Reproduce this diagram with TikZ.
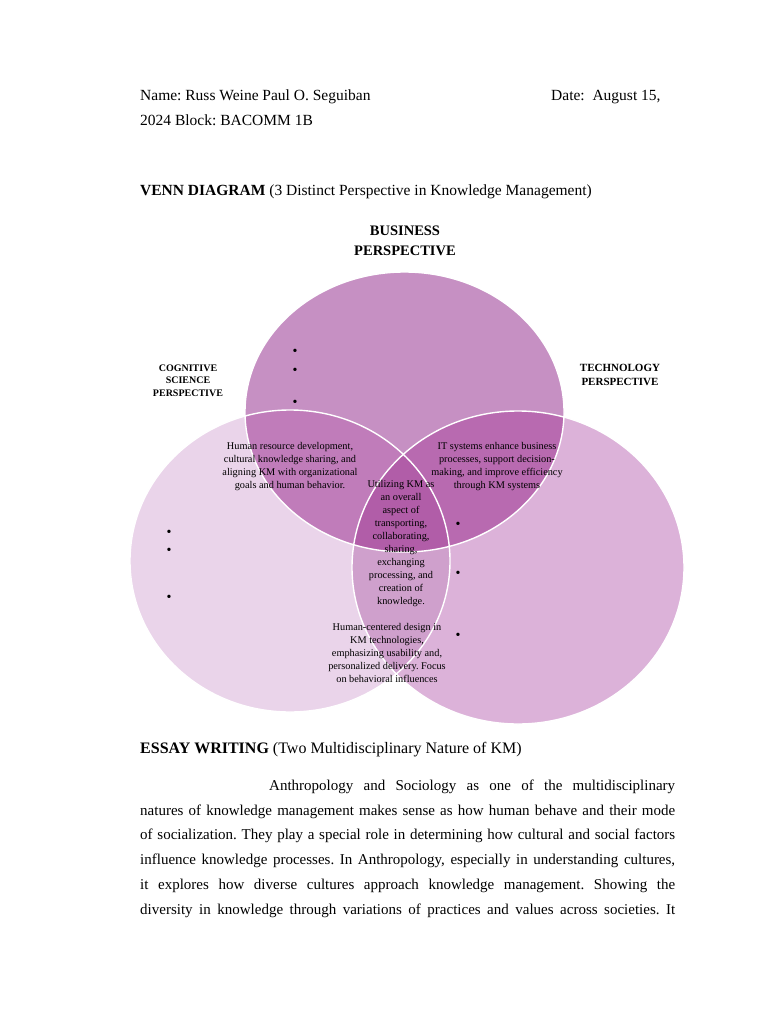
\documentclass[tikz,border=0pt]{standalone}
\usepackage{fontspec}
\setmainfont{Liberation Serif}
\frenchspacing
\definecolor{cTop}{HTML}{C690C3}
\definecolor{cLeft}{HTML}{EAD4EA}
\definecolor{cRight}{HTML}{DCB2D9}
\definecolor{cTL}{HTML}{C07CBA}
\definecolor{cTR}{HTML}{B86AB0}
\definecolor{cLR}{HTML}{CFA0CC}
\definecolor{cAll}{HTML}{B15DA8}
\begin{document}
\begin{tikzpicture}[x=1pt,y=-1pt,
  body/.style={inner sep=0pt,anchor=base west,font=\fontsize{15}{18}\selectfont},
  head/.style={inner sep=0pt,anchor=base west,font=\fontsize{15.5}{18}\selectfont},
  venntxt/.style={inner sep=0pt,align=center,font=\fontsize{10.3}{13}\selectfont},
  lbl/.style={inner sep=0pt,align=center},
  bul/.style={inner sep=0pt,font=\fontsize{14}{14}\selectfont},
  outline/.style={draw=white,line width=1.4pt}]
\useasboundingbox (0,0) rectangle (768,1024);
\fill[white] (0,0) rectangle (768,1024);
% header
\node[head] (name) at (140,101) {Name: Russ Weine Paul O. Seguiban};
\node[head] (date) at (551,101) {Date:\ \ August 15,};
\node[head] (block) at (140,126) {2024 Block: BACOMM 1B};
\node[head] (venn) at (140,196) {\textbf{VENN DIAGRAM} (3 Distinct Perspective in Knowledge Management)};
% ellipses
\def\Etop{(404.5,412) ellipse [x radius=159.5pt, y radius=140pt]}
\def\Eleft{(290,561) ellipse [x radius=160pt, y radius=151pt]}
\def\Eright{(518,567.5) ellipse [x radius=166pt, y radius=156.5pt]}
\fill[cLeft] \Eleft;
\fill[cRight] \Eright;
\fill[cTop] \Etop;
\begin{scope}\clip \Eleft; \fill[cLR] \Eright; \end{scope}
\begin{scope}\clip \Etop; \fill[cTL] \Eleft; \end{scope}
\begin{scope}\clip \Etop; \fill[cTR] \Eright; \end{scope}
\begin{scope}\clip \Etop; \clip \Eleft; \fill[cAll] \Eright; \end{scope}
\draw[outline] \Eleft;
\draw[outline] \Eright;
\draw[outline] \Etop;
% labels
\node[lbl,font=\bfseries\fontsize{14.5}{20}\selectfont] (business) at (405,241) {BUSINESS\\PERSPECTIVE};
\node[lbl,font=\bfseries\fontsize{10}{12.5}\selectfont] (cognitive) at (188,380.5) {COGNITIVE\\SCIENCE\\PERSPECTIVE};
\node[lbl,font=\bfseries\fontsize{11}{14}\selectfont] (technology) at (620,375) {TECHNOLOGY\\PERSPECTIVE};
% bullets
\node[bul] (b1) at (295,352) {\textbullet};
\node[bul] (b2) at (295,371) {\textbullet};
\node[bul] (b3) at (295,403) {\textbullet};
\node[bul] (b4) at (169,533) {\textbullet};
\node[bul] (b5) at (169,551) {\textbullet};
\node[bul] (b6) at (169,598) {\textbullet};
\node[bul] (b7) at (458,525) {\textbullet};
\node[bul] (b8) at (458,574) {\textbullet};
\node[bul] (b9) at (458,636) {\textbullet};
% region texts
\node[venntxt] (tl) at (290,466.5) {Human resource development,\\cultural knowledge sharing, and\\aligning KM with organizational\\goals and human behavior.};
\node[venntxt] (tr) at (497,466.5) {IT systems enhance business\\processes, support decision-\\making, and improve efficiency\\through KM systems};
\node[venntxt] (ctr) at (401,543.5) {Utilizing KM as\\an overall\\aspect of\\transporting,\\collaborating,\\sharing,\\exchanging\\processing, and\\creation of\\knowledge.};
\node[venntxt] (bot) at (387,653) {Human-centered design in\\KM technologies,\\emphasizing usability and,\\personalized delivery. Focus\\on behavioral influences};
% essay
\node[body,font=\fontsize{16}{18}\selectfont] (essay) at (140,753) {\textbf{ESSAY WRITING} (Two Multidisciplinary Nature of KM)};
\node[body] (p1) at (269,790) {\makebox[406pt][s]{Anthropology and Sociology as one of the multidisciplinary}};
\node[body] (p2) at (140,815) {\makebox[535pt][s]{natures of knowledge management makes sense as how human behave and their mode}};
\node[body] (p3) at (140,839) {\makebox[535pt][s]{of socialization. They play a special role in determining how cultural and social factors}};
\node[body] (p4) at (140,864) {\makebox[535pt][s]{influence knowledge processes. In Anthropology, especially in understanding cultures,}};
\node[body] (p5) at (140,889) {\makebox[535pt][s]{it explores how diverse cultures approach knowledge management. Showing the}};
\node[body] (p6) at (140,914) {\makebox[535pt][s]{diversity in knowledge through variations of practices and values across societies. It}};
\end{tikzpicture}
\end{document}
